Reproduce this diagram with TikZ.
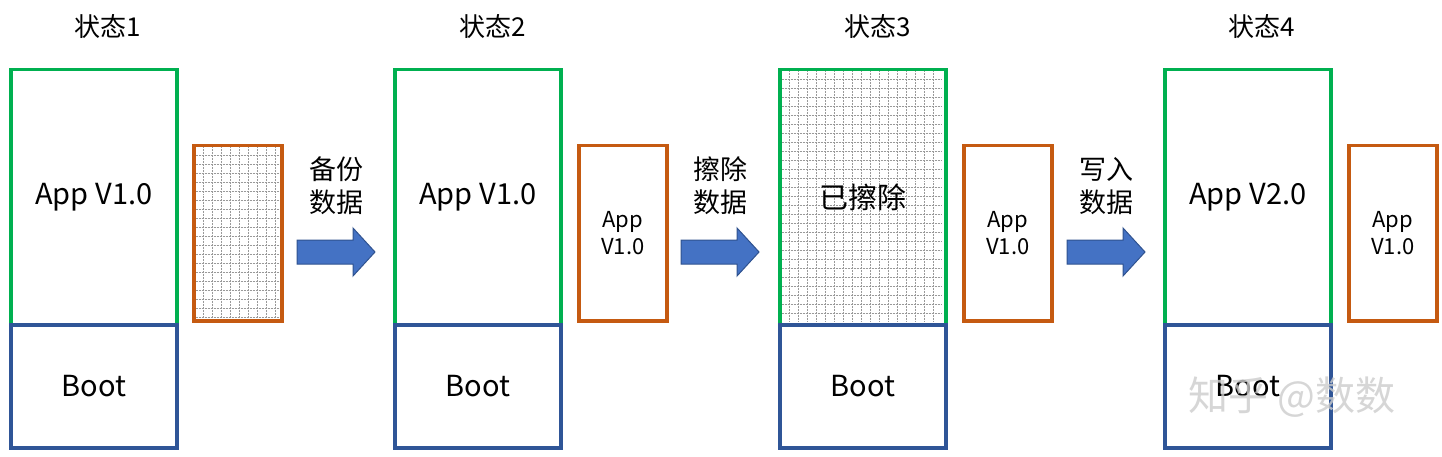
\documentclass[tikz,border=0pt]{standalone}
\usepackage{fontspec}
\setmainfont{Noto Sans CJK SC}
\begin{document}
\begin{tikzpicture}[x=1pt,y=-1pt]
\definecolor{gC}{HTML}{00B050}\definecolor{bC}{HTML}{2F5597}\definecolor{oC}{HTML}{C55A11}
\definecolor{aF}{HTML}{4472C4}\definecolor{aD}{HTML}{2F528F}
\tikzset{grn/.style={draw=gC,line width=3.5pt},blu/.style={draw=bC,line width=3.5pt},
 org/.style={draw=oC,line width=3.5pt},arr/.style={draw=aD,fill=aF,line width=1pt},
 big/.style={font=\fontsize{29}{32}\selectfont},
 small/.style={font=\fontsize{22}{27}\selectfont, align=center},
 ttl/.style={font=\fontsize{26}{30}\selectfont},
 lbl/.style={font=\fontsize{27}{33}\selectfont, align=center},
 gl/.style={gray!80,densely dotted,line width=0.5pt}}
\useasboundingbox (0,0) rectangle (1442,457);
\newcommand{\gridin}[4]{%
  \foreach \gx in {#1,...,#3}{\pgfmathparse{mod(\gx-#1,9)==0}\ifnum\pgfmathresult=1 \draw[gl] (\gx,#2) -- (\gx,#4);\fi}%
  \foreach \gy in {#2,...,#4}{\pgfmathparse{mod(\gy-#2,9)==0}\ifnum\pgfmathresult=1 \draw[gl] (#1,\gy) -- (#3,\gy);\fi}}
\foreach \o/\n in {0/1,385/2,770/3,1154/4}{
  \node[ttl] (t\n) at (108+\o,27) {状态\n};
}
% state 1
\gridin{194}{146}{280}{317}
\node[org,minimum width=88,minimum height=175,anchor=north west] (o1) at (192,144) {};
\node[grn,big,minimum width=166,minimum height=255,anchor=north west] (g1) at (9,68) {App V1.0};
\node[blu,big,minimum width=166,minimum height=123,anchor=north west] (b1) at (9,323) {Boot};
% state 2
\node[grn,big,minimum width=166,minimum height=255,anchor=north west] (g2) at (393,68) {App V1.0};
\node[blu,big,minimum width=166,minimum height=123,anchor=north west] (b2) at (393,323) {Boot};
\node[org,small,minimum width=88,minimum height=175,anchor=north west] (o2) at (577,144) {App\\V1.0};
% state 3
\gridin{780}{70}{941}{321}
\node[grn,big,minimum width=166,minimum height=255,anchor=north west] (g3) at (778,68) {已擦除};
\node[blu,big,minimum width=166,minimum height=123,anchor=north west] (b3) at (778,323) {Boot};
\node[org,small,minimum width=88,minimum height=175,anchor=north west] (o3) at (962,144) {App\\V1.0};
% state 4
\node[grn,big,minimum width=166,minimum height=255,anchor=north west] (g4) at (1163,68) {App V2.0};
\node[blu,big,minimum width=166,minimum height=123,anchor=north west] (b4) at (1163,323) {Boot};
\node[org,small,minimum width=88,minimum height=175,anchor=north west] (o4) at (1347,144) {App\\V1.0};
% arrows
\foreach \x/\t in {297/备份\\数据,681/擦除\\数据,1067/写入\\数据}{
  \draw[arr] (\x,240) -- (\x+56,240) -- (\x+56,228) -- (\x+78,252) -- (\x+56,276) -- (\x+56,264) -- (\x,264) -- cycle;
  \node[lbl] at (\x+39,186) {\t};
}
\node[font=\fontsize{40}{44}\selectfont, text=gray!40, opacity=0.8] (wm) at (1292,397) {知乎 @数数};
\end{tikzpicture}
\end{document}
